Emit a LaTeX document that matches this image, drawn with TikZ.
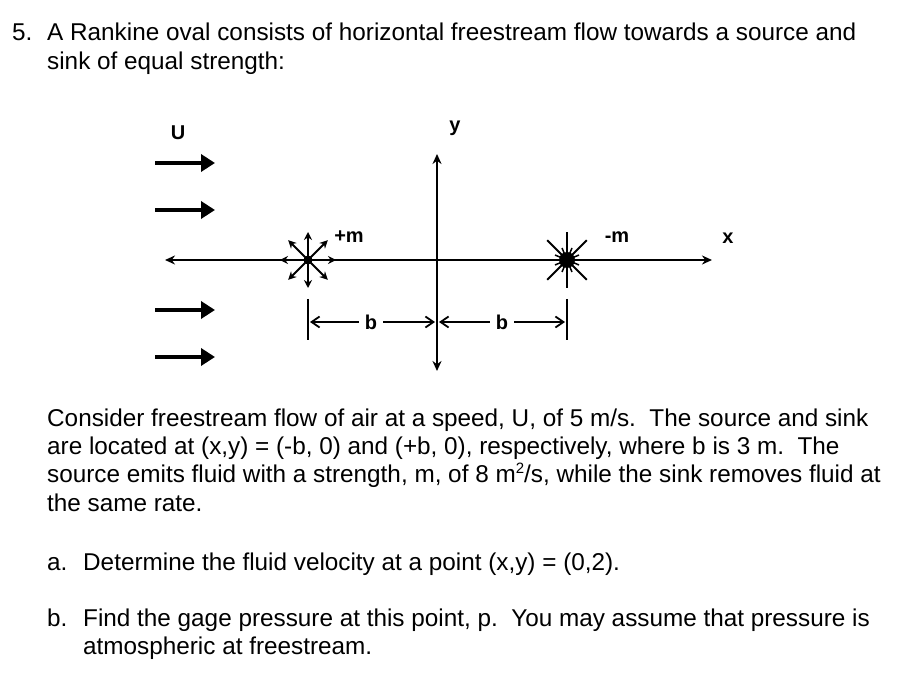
\documentclass[tikz,border=0pt]{standalone}
\usepackage{fontspec}
\setmainfont{Liberation Sans}
\usetikzlibrary{arrows.meta}
\begin{document}
\begin{tikzpicture}[x=1pt,y=-1pt,
  txt/.style={anchor=base west,inner sep=0pt,font=\fontsize{24.3}{28}\selectfont},
  lbl/.style={inner sep=0pt,font=\fontsize{20}{24}\selectfont\bfseries},
  ax/.style={line width=2pt,-{Stealth[length=10pt,width=9pt]}},
  ua/.style={line width=4.2pt,-{Triangle[length=14pt,width=17pt]}},
  sm/.style={line width=1.8pt,-{Stealth[length=8pt,width=8pt]}},
  dim/.style={line width=1.8pt,-{Straight Barb[length=8pt,width=11pt]}}]
\useasboundingbox (0,0) rectangle (913,684);
\fill[white] (0,0) rectangle (913,684);
% text
\node[txt] (t1) at (12,41) {5.};
\node[txt] (t2) at (47,41) {A Rankine oval consists of horizontal freestream flow towards a source and};
\node[txt] (t3) at (47,70) {sink of equal strength:};
\node[txt] (p1) at (47,426) {Consider freestream flow of air at a speed, U, of 5 m/s.\ \ The source and sink};
\node[txt] (p2) at (47,454) {are located at (x,y) = (-b, 0) and (+b, 0), respectively, where b is 3 m.\ \ The};
\node[txt] (p3) at (47,482) {source emits fluid with a strength, m, of 8 m\raisebox{0.35em}{\fontsize{15}{15}\selectfont 2}/s, while the sink removes fluid at};
\node[txt] (p4) at (47,511) {the same rate.};
\node[txt] (a1) at (47,570) {a.};
\node[txt] (a2) at (83,570) {Determine the fluid velocity at a point (x,y) = (0,2).};
\node[txt] (b1) at (47,626) {b.};
\node[txt] (b2) at (83,626) {Find the gage pressure at this point, p.\ \ You may assume that pressure is};
\node[txt] (b3) at (83,654) {atmospheric at freestream.};
% axes
\coordinate (o) at (437,260);
\coordinate (xl) at (165,260);
\coordinate (xr) at (712,260);
\coordinate (yt) at (437,154);
\coordinate (yb) at (437,371);
\draw[ax] (o) -- (xl);
\draw[ax] (o) -- (xr);
\draw[ax] (o) -- (yt);
\draw[ax] (o) -- (yb);
\node[lbl] (yl) at (455,128) {y};
\node[lbl] (xlb) at (728,238) {x};
\node[lbl] (ul) at (178,133) {U};
% U arrows
\foreach \yy [count=\i] in {163,210,310,357}{
  \coordinate (us\i) at (155,\yy); \coordinate (ue\i) at (215,\yy);
  \draw[ua] (us\i) -- (ue\i);}
% source
\coordinate (src) at (308,260);
\fill (src) circle (4.5);
\foreach \a in {0,45,...,315}{\draw[sm] (src) -- ++(\a:-28);}
\node[lbl] (pm) at (349,237) {+m};
% sink
\coordinate (snk) at (567,260);
\foreach \a in {0,45,...,315}{\draw[line width=1.8pt] (snk) -- ++(\a:28);}
\foreach \a in {22.5,67.5,...,337.5}{\draw[line width=1.5pt] (snk) -- ++(\a:13);}
\fill (snk) circle (8);
\node[lbl] (mm) at (617,237) {-m};
% dimensions
\coordinate (t1a) at (308,299); \coordinate (t1b) at (308,340);
\coordinate (t2a) at (567,299); \coordinate (t2b) at (567,340);
\draw[line width=1.8pt] (t1a) -- (t1b);
\draw[line width=1.8pt] (t2a) -- (t2b);
\node[lbl] (bl) at (371,322) {b};
\node[lbl] (br) at (502,322) {b};
\draw[dim] (bl.west) ++(-6,0) -- (310,322);
\draw[dim] (bl.east) ++(6,0) -- (435,322);
\draw[dim] (br.west) ++(-6,0) -- (439,322);
\draw[dim] (br.east) ++(6,0) -- (565,322);
\end{tikzpicture}
\end{document}
